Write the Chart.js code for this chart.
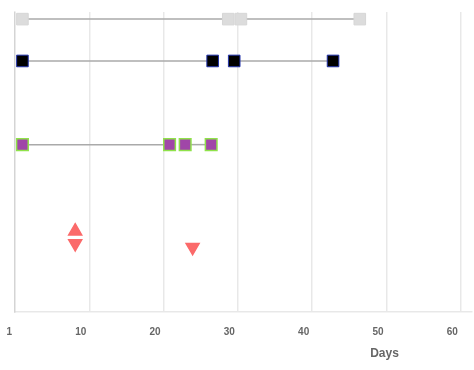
<!DOCTYPE html>
<html>
<head>
<meta charset="utf-8">
<script src="https://cdn.jsdelivr.net/npm/chart.js@4.4.0/dist/chart.umd.min.js"></script>
<style>
  html, body { margin: 0; padding: 0; background: #ffffff; }
  #wrap { width: 474px; height: 370px; position: relative; }
</style>
</head>
<body>
<div id="wrap"><canvas id="c"></canvas></div>
<script>
// ---- data ----
const tickValues = [0, 10, 20, 30, 40, 50, 60];
const tickLabels = ['1', '10', '20', '30', '40', '50', '60'];
const axisTitle = 'Days';

const greyRanges   = [[1, 28.7], [30.4, 46.4]];
const blackRanges  = [[1, 26.6], [29.5, 42.8]];
const purpleRanges = [[1, 20.8], [22.9, 26.4]];
const rowLevels    = [7, 6, 4];           // grey, black, purple rows

const upDays     = [8.1];
const upLevels   = [1.93];
const downDays   = [8.1, 23.9];
const downLevels = [1.64, 1.55];

// ---- styles ----
const FONT = "'Liberation Sans', Arial, sans-serif";
const GRID = 'rgba(0,0,0,0.09)';
const LINE = '#aaaaaa';

const rowStyles = [
  { bg: '#dcdcdc', border: '#d6d6d6', bw: 1 },
  { bg: '#000000', border: '#2233aa', bw: 1 },
  { bg: '#a046a8', border: '#8fe24a', bw: 1.5 }
];

const datasets = [];
[greyRanges, blackRanges, purpleRanges].forEach((ranges, r) => {
  ranges.forEach(([a, b]) => {
    datasets.push({
      type: 'line',
      data: [{ x: a, y: rowLevels[r] }, { x: b, y: rowLevels[r] }],
      borderColor: LINE,
      borderWidth: 1.5,
      pointStyle: 'rect',
      pointRadius: 8.2,
      pointHoverRadius: 8.2,
      pointBackgroundColor: rowStyles[r].bg,
      pointBorderColor: rowStyles[r].border,
      pointBorderWidth: rowStyles[r].bw,
      fill: false,
      clip: false
    });
  });
});

datasets.push({
  type: 'scatter',
  data: upDays.map((d, i) => ({ x: d, y: upLevels[i] })),
  pointStyle: 'triangle',
  pointRotation: 0,
  pointRadius: 7.5,
  pointBackgroundColor: '#fb6a6a',
  pointBorderColor: '#fb6a6a',
  pointBorderWidth: 1.5,
  showLine: false
});
datasets.push({
  type: 'scatter',
  data: downDays.map((d, i) => ({ x: d, y: downLevels[i] })),
  pointStyle: 'triangle',
  pointRotation: 180,
  pointRadius: 7.5,
  pointBackgroundColor: '#fb6a6a',
  pointBorderColor: '#fb6a6a',
  pointBorderWidth: 1.5,
  showLine: false
});

const titlePlugin = {
  id: 'daysTitle',
  afterDraw(chart) {
    const xs = chart.scales.x;
    const ctx = chart.ctx;
    ctx.save();
    ctx.font = 'bold 12px ' + FONT;
    ctx.fillStyle = '#666666';
    ctx.textAlign = 'center';
    ctx.textBaseline = 'middle';
    ctx.fillText(axisTitle, xs.getPixelForValue(tickValues[5]) - 2, 354);
    ctx.restore();
  }
};

new Chart(document.getElementById('c'), {
  type: 'line',
  data: { datasets },
  plugins: [titlePlugin],
  options: {
    responsive: true,
    maintainAspectRatio: false,
    animation: false,
    layout: { autoPadding: false, padding: { left: 15, right: 2, top: 12, bottom: 30 } },
    plugins: { legend: { display: false }, tooltip: { enabled: false } },
    scales: {
      x: {
        type: 'linear',
        min: 0,
        max: 61.5,
        afterBuildTicks(axis) { axis.ticks = tickValues.map(v => ({ value: v })); },
        grid: { color: GRID, lineWidth: 1.5, drawTicks: true, tickLength: 12, tickColor: 'rgba(0,0,0,0)' },
        border: { display: true, color: GRID, width: 1.5 },
        ticks: {
          autoSkip: false,
          maxRotation: 0,
          align: 'end',
          labelOffset: -3,
          padding: 2,
          color: '#666666',
          font: { family: FONT, size: 10, weight: 'bold' },
          callback(value) { const i = tickValues.indexOf(value); return i >= 0 ? tickLabels[i] : ''; }
        }
      },
      y: {
        type: 'linear',
        min: 0,
        max: 7.17,
        grid: { display: false, drawTicks: false },
        border: { display: true, color: GRID, width: 1.5 },
        ticks: { display: false }
      }
    }
  }
});
</script>
</body>
</html>
